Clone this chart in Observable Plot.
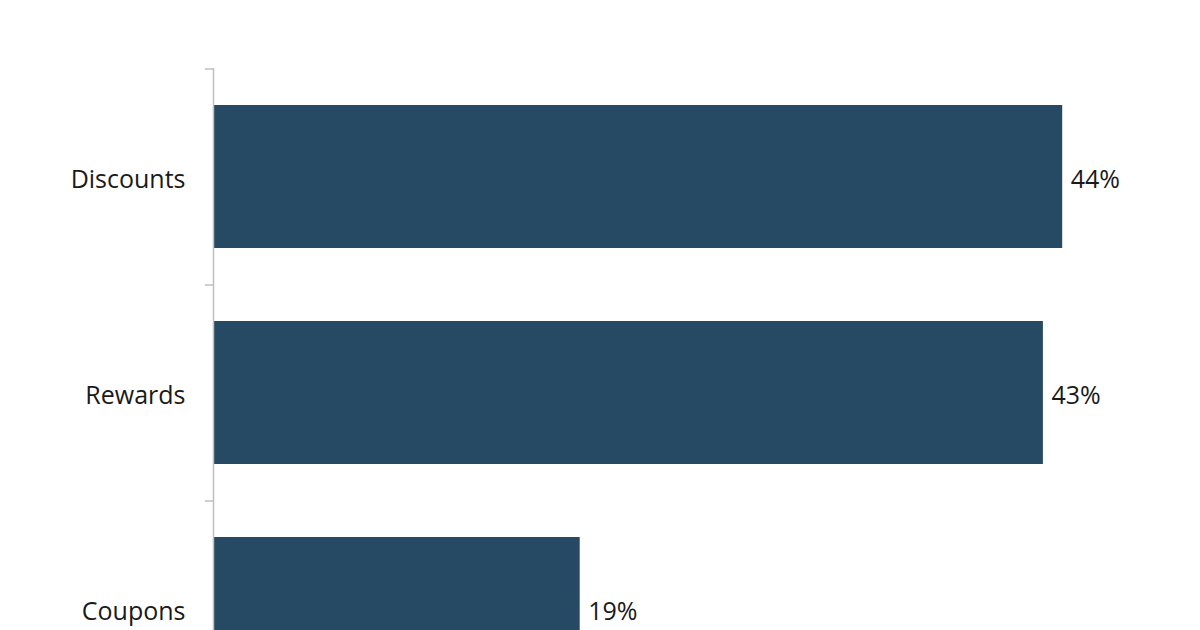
<!DOCTYPE html>
<html>
<head>
<meta charset="utf-8">
<script src="https://cdn.jsdelivr.net/npm/d3@7"></script>
<script src="https://cdn.jsdelivr.net/npm/@observablehq/plot@0.6"></script>
<style>
  html, body { margin: 0; padding: 0; background: #fff; overflow: hidden; }
  #chart svg { display: block; }
</style>
</head>
<body>
<div id="chart"></div>
<script>
const categories = ["Discounts", "Rewards", "Coupons"];
const values = [44, 43, 19];
const valueLabels = ["44%", "43%", "19%"];

const data = categories.map((c, i) => ({category: c, value: values[i], label: valueLabels[i]}));

const barColor = "#264a63";
const axisColor = "#bfbfbf";
const textColor = "#1a1a1a";

const chart = Plot.plot({
  width: 1200,
  height: 760,
  marginTop: 68,
  marginBottom: 44,
  marginLeft: 213,
  marginRight: 22,
  style: {fontFamily: "'Open Sans', sans-serif", fontSize: "25px", color: textColor, background: "#fff"},
  x: {domain: [0, 50], axis: null},
  y: {domain: categories, paddingInner: 0.338, paddingOuter: 0.169, label: null},
  marks: [
    Plot.barX(data, {x: "value", y: "category", fill: barColor}),
    Plot.ruleX([0], {stroke: axisColor, strokeWidth: 1.5}),
    Plot.ruleY(categories, {y: d => d, x1: 0, x2: -0.42, dy: -108, stroke: axisColor, strokeWidth: 1.5, clip: false}),
    Plot.axisY({tickSize: 0, tickPadding: 28, fill: textColor, fontSize: 25, dy: 3, label: null}),
    Plot.text(data, {x: "value", y: "category", text: "label", dx: 8, dy: 3, textAnchor: "start", fill: textColor, fontSize: 25})
  ]
});
document.getElementById("chart").appendChild(chart);
</script>
</body>
</html>
